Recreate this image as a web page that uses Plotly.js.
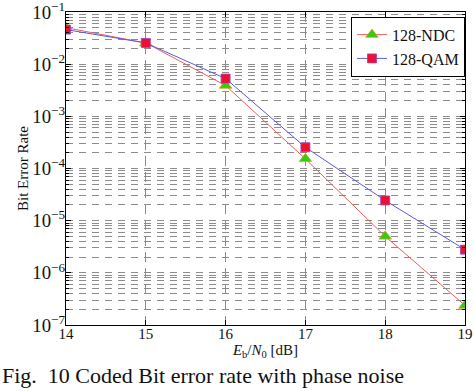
<!DOCTYPE html>
<html>
<head>
<meta charset="utf-8">
<script src="https://cdn.plot.ly/plotly-3.0.1.min.js"></script>
<style>
html,body{margin:0;padding:0;background:#fff;}
#chart{width:474px;height:391px;}
</style>
</head>
<body>
<div id="chart"></div>
<script>
// Data
const ebn0 = [14, 15, 16, 17, 18, 19];
const berNDC = [0.050, 0.0255, 3.9e-3, 1.53e-4, 5.0e-6, 2.37e-7];
const berQAM = [0.046, 0.0255, 5.3e-3, 2.55e-4, 2.44e-5, 2.78e-6];
const seriesNames = ['128-NDC', '128-QAM'];
const xTicks = [14, 15, 16, 17, 18, 19];

const serif = 'Liberation Serif, Times New Roman, serif';

const traces = [
  {
    x: ebn0, y: berNDC, name: seriesNames[0], mode: 'lines+markers',
    line: {color: '#e8605c', width: 1},
    marker: {symbol: 'triangle-up', size: 11, color: '#33cc11', line: {color: '#e0a020', width: 0.8}}
  },
  {
    x: ebn0, y: berQAM, name: seriesNames[1], mode: 'lines+markers',
    line: {color: '#5a5ae0', width: 1},
    marker: {symbol: 'square', size: 9, color: '#ee1030', line: {color: '#a040c0', width: 0.8}}
  }
];

const gridCol = '#8c8c8c';

const layout = {
  width: 474, height: 391,
  margin: {l: 66, r: 9, t: 12, b: 66},
  paper_bgcolor: '#fff', plot_bgcolor: '#fff',
  font: {family: serif, size: 15, color: '#111'},
  showlegend: true,
  legend: {
    x: 1, xanchor: 'right', y: 0.985, yanchor: 'top',
    bgcolor: '#fff', bordercolor: '#000', borderwidth: 1,
    font: {family: serif, size: 16, color: '#111'},
    tracegroupgap: 0
  },
  xaxis: {
    type: 'linear', range: [14, 19],
    tickvals: xTicks, ticktext: xTicks.map(String),
    showgrid: true, gridcolor: gridCol, gridwidth: 1, griddash: '10px,6px',
    showline: true, linecolor: '#000', linewidth: 1, mirror: 'allticks',
    ticks: 'inside', ticklen: 5, tickcolor: '#000',
    tickfont: {family: serif, size: 15, color: '#111'},
    ticklabelstandoff: -5,
    zeroline: false,
    title: {text: '<i>E</i><sub>b</sub>/<i>N</i><sub>0</sub> [dB]', font: {family: serif, size: 15, color: '#111'}, standoff: 3}
  },
  yaxis: {
    type: 'log', range: [-7, -1], dtick: 1,
    exponentformat: 'power',
    showgrid: true, gridcolor: gridCol, gridwidth: 1, griddash: '7px,6px',
    showline: true, linecolor: '#000', linewidth: 1, mirror: 'allticks',
    ticks: 'inside', ticklen: 5, tickcolor: '#000',
    tickfont: {family: serif, size: 15, color: '#111'},
    ticklabeloverflow: 'allow',
    ticklabelstandoff: -3,
    zeroline: false,
    minor: {dtick: 'D1', showgrid: true, gridcolor: gridCol, gridwidth: 1, griddash: '7px,6px', ticks: 'inside', ticklen: 3, tickcolor: '#000'},
    title: {text: 'Bit Error Rate', font: {family: serif, size: 15, color: '#111'}, standoff: 0}
  },
  annotations: [
    {
      text: 'Fig.&nbsp; 10 Coded Bit error rate with phase noise',
      xref: 'paper', yref: 'paper', x: -0.166, xanchor: 'left',
      y: -0.16, yanchor: 'middle', showarrow: false,
      font: {family: serif, size: 22, color: '#111'}
    }
  ]
};

Plotly.newPlot('chart', traces, layout, {displayModeBar: false, staticPlot: true});
</script>
</body>
</html>
